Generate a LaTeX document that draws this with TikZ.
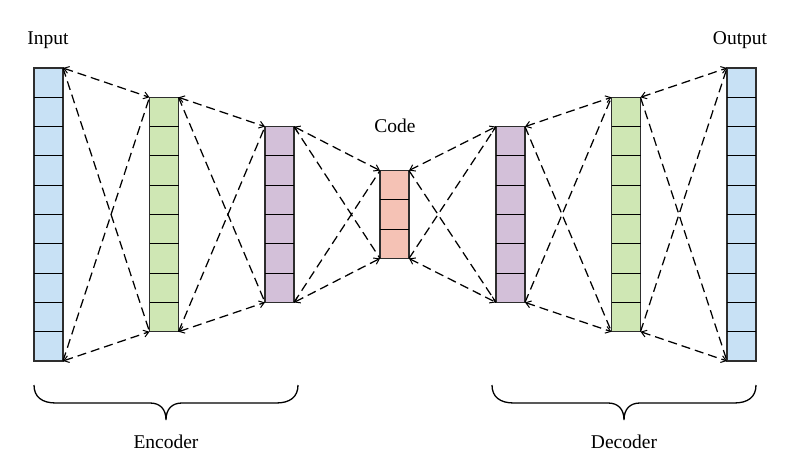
\documentclass[tikz,border=0pt]{standalone}
\usepackage{fontspec}
\setmainfont{Liberation Serif}
\usetikzlibrary{arrows.meta}
\definecolor{cblue}{HTML}{C8E1F5}
\definecolor{cgreen}{HTML}{CFE7B4}
\definecolor{cpurple}{HTML}{D3C0D9}
\definecolor{cred}{HTML}{F5C2B5}
\definecolor{cframe}{HTML}{2E2E2E}
\tikzset{
  layer/.style={draw=cframe, line width=1.1pt, minimum width=29pt, inner sep=0pt, outer sep=0pt},
  conn/.style={draw=black, line width=1.25pt, dash pattern=on 9pt off 5pt},
  both/.style={conn, {Straight Barb[length=5pt,width=7pt,line width=1pt]}-{Straight Barb[length=5pt,width=7pt,line width=1pt]}},
  lbl/.style={font=\fontsize{19.5pt}{22pt}\selectfont, inner sep=0pt},
  brace/.style={draw=black, line width=1.3pt}
}
\begin{document}
\begin{tikzpicture}[x=1pt,y=-1pt]
\useasboundingbox (0,0) rectangle (800,467);
% layers: name, x center, cells, colour
\def\cell{29.3}
\foreach \nm/\xx/\n/\col in {L1/48.5/10/cblue, L2/164/8/cgreen, L3/279.5/6/cpurple, C/394.5/3/cred, L5/510.5/6/cpurple, L6/626/8/cgreen, L7/741.5/10/cblue}{
  \node[layer, fill=\col, minimum height=\n*\cell pt] (\nm) at (\xx,214.5) {};
  \pgfmathtruncatemacro{\last}{\n-1}
  \foreach \k in {1,...,\last}{
    \draw[black, line width=1.1pt] ([yshift=-\k*\cell pt]\nm.north west) -- ([yshift=-\k*\cell pt]\nm.north east);
  }
}
% connectors
\foreach \a/\b in {L1/L2, L2/L3, L3/C, C/L5, L5/L6, L6/L7}{
  \draw[both] (\a.north east) -- (\b.north west);
  \draw[both] (\a.south east) -- (\b.south west);
  \draw[conn] (\a.north east) -- (\b.south west);
  \draw[conn] (\a.south east) -- (\b.north west);
}
% labels
\node[lbl] (tin) at (48,40) {Input};
\node[lbl] (tout) at (740,40) {Output};
\node[lbl] (tcode) at (395,126) {Code};
\node[lbl] (tenc) at (166,442) {Encoder};
\node[lbl] (tdec) at (624,442) {Decoder};
% braces
\foreach \xa/\xb in {34/298, 492/756}{
  \pgfmathsetmacro{\m}{(\xa+\xb)/2}
  \draw[brace] (\xa,385) .. controls (\xa,397) and (\xa+8,403) .. (\xa+22,403)
    -- (\m-16,403) .. controls (\m-6,403) and (\m,409) .. (\m,420)
    .. controls (\m,409) and (\m+6,403) .. (\m+16,403)
    -- (\xb-22,403) .. controls (\xb-8,403) and (\xb,397) .. (\xb,385);
}
\end{tikzpicture}
\end{document}
